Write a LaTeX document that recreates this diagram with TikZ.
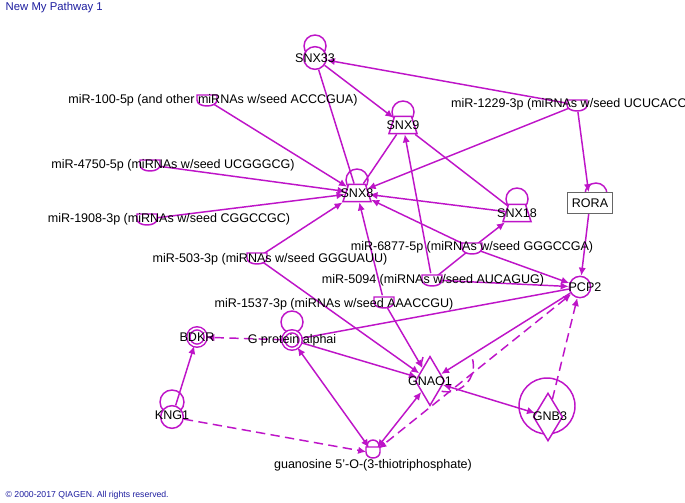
\documentclass[tikz,border=0pt]{standalone}
\usepackage{fontspec}
\setmainfont{Liberation Sans}
\usetikzlibrary{shapes.geometric,arrows.meta,calc}
\definecolor{mag}{RGB}{190,20,200}
\definecolor{ttl}{RGB}{30,30,160}
\begin{document}
\begin{tikzpicture}[x=0.75pt,y=-0.75pt,
  every node/.style={font=\fontsize{9.4}{10}\selectfont},
  ed/.style={mag,line width=1.1pt},
  ar/.style={ed,-{Latex[length=6pt,width=5.5pt]}},
  ba/.style={ed,{Latex[length=6pt,width=5.5pt]}-{Latex[length=6pt,width=5.5pt]}},
  dsh/.style={dash pattern=on 7pt off 4pt},
  mir/.style={circle,inner sep=0,minimum size=10pt},
  trap/.style={trapezium,trapezium angle=72,draw=mag,line width=1.1pt,minimum width=20pt,minimum height=13pt,inner sep=2pt},
  circ/.style={circle,draw=mag,line width=1.1pt,minimum size=17pt,inner sep=0},
  dcirc/.style={circle,draw=mag,line width=1.1pt,double=white,double distance=1.2pt,minimum size=13pt,inner sep=0},
  lp/.style={mag,line width=1.1pt}]
\useasboundingbox (0,0) rectangle (685,503);
\fill[white] (0,0) rectangle (685,503);
\node[anchor=west,text=ttl,font=\fontsize{8.5}{9}\selectfont] (title) at (1,8) {New My Pathway 1};
\node[anchor=west,text=ttl,font=\fontsize{6.5}{7}\selectfont] (copy) at (1,495) {© 2000-2017 QIAGEN. All rights reserved.};
% loops (behind)
\draw[lp] (315,46) circle[radius=11];
\draw[lp] (403,112) circle[radius=11];
\draw[lp] (357,180) circle[radius=11];
\draw[lp] (517,199) circle[radius=11];
\draw[lp] (292,322) circle[radius=11];
\draw[lp] (547,406) circle[radius=28];
\draw[lp] (373,446) circle[radius=6];
\draw[lp] (172,402) circle[radius=12];
\draw[lp] (596,194) circle[radius=11];
\draw[lp,dsh] (423,357) arc[start angle=200,end angle=-20,radius=26];
% nodes
\node[circ,fill=white] (snx33) at (315,58) {};
\node[trap,fill=white] (snx9) at (403,125) {\phantom{x}};
\node[trap,fill=white] (snx8) at (357,193) {\phantom{x}};
\node[trap,fill=white] (snx18) at (517,213) {\phantom{x}};
\node[draw=black!60,fill=white,minimum width=34pt,minimum height=16pt,inner sep=2pt] (rora) at (590,203) {RORA};
\node[circ,fill=white,minimum size=16pt] (pcp2) at (580,287) {};
\node[diamond,draw=mag,line width=1.1pt,fill=white,minimum width=22pt,minimum height=37pt,inner sep=0] (gnao) at (430,381) {};
\node[diamond,draw=mag,line width=1.1pt,fill=white,minimum width=22pt,minimum height=36pt,inner sep=0] (gnb3) at (548,417) {};
\node[dcirc,fill=white] (gpa) at (292,340) {};
\node[dcirc,fill=white] (bdkr) at (197,337) {};
\node[circ,fill=white] (kng) at (172,417) {};
\node[mir] (gtp) at (373,453) {};
\draw[lp,fill=white] (366,447) -- (380,447) -- (380,452) .. controls (380,460) and (366,460) .. (366,452) -- cycle;
% miRNA nodes
\foreach \n/\x/\y in {n100/207/100,n1229/577/105,n4750/150/165,n1908/147/219,n503/257/258,n6877/472/248,n5094/432/280,n1537/384/302}{
  \node[mir] (\n) at (\x,\y) {};
}
% edges
\draw[ar] (n100) -- (snx8);
\draw[ar] (n4750) -- (snx8);
\draw[ar] (n1908) -- (snx8);
\draw[ar] (n503) -- (snx8);
\draw[ar] (n503) -- (gnao);
\draw[ar] (n1229) -- (snx33);
\draw[ar] (n1229) -- (snx8);
\draw[ar] (n1229) -- (rora);
\draw[ar] (snx33) -- (snx9);
\draw[ed] (snx33) -- (snx8);
\draw[ed] (snx9) -- (snx8);
\draw[ed] (snx9) -- (snx18);
\draw[ar] (snx18) -- (snx8);
\draw[ar] (n6877) -- (snx8);
\draw[ar] (n6877) -- (snx18);
\draw[ar] (n6877) -- (pcp2);
\draw[ed] (n6877) -- (n5094);
\draw[ar] (n5094) -- (snx9);
\draw[ar] (n5094) -- (pcp2);
\draw[ar] (n1537) -- (snx8);
\draw[ar] (n1537) -- (gnao);
\draw[ed] (gpa) -- (pcp2);
\draw[ar] (rora) -- (pcp2);
\draw[ar] (pcp2) -- (gnao);
\draw[ba,dsh] (pcp2) -- (gtp);
\draw[ar,dsh] (gnb3) -- (pcp2);
\draw[ar] (gpa) -- (gnao);
\draw[ar,dsh] (gpa) -- (bdkr);
\draw[ba] (gpa) -- (gtp);
\draw[ba] (gnao) -- (gnb3);
\draw[ba] (gtp) -- (gnao);
\draw[ar] (kng) -- (bdkr);
\draw[ar,dsh] (kng) -- (gtp);
% miRNA bowls
\foreach \x/\y in {207/100,577/105,150/165,147/219,257/258,472/248,432/280,384/302}{
  \draw[lp,fill=white] (\x-10,\y-5) -- (\x+10,\y-5) -- (\x+10,\y) .. controls (\x+10,\y+8) and (\x-10,\y+8) .. (\x-10,\y) -- cycle;
}
% labels
\node (l33) at (315,58) {SNX33};
\node (l9) at (403,125) {SNX9};
\node (l8) at (357,193) {SNX8};
\node (l18) at (517,213) {SNX18};
\node (lpcp) at (585,287) {PCP2};
\node (lgnao) at (430,381) {GNAO1};
\node (lgnb) at (550,416) {GNB3};
\node (lgpa) at (292,340) {G protein alphai};
\node (lbdkr) at (197,337) {BDKR};
\node (lkng) at (172,415) {KNG1};
\node (lgtp) at (373,465) {guanosine 5'-O-(3-thiotriphosphate)};
\node (m100) at (213,100) {miR-100-5p (and other miRNAs w/seed ACCCGUA)};
\node (m1229) at (571,104) {miR-1229-3p (miRNAs w/seed UCUCACC)};
\node (m4750) at (173,165) {miR-4750-5p (miRNAs w/seed UCGGGCG)};
\node (m1908) at (169,219) {miR-1908-3p (miRNAs w/seed CGGCCGC)};
\node (m503) at (270,259) {miR-503-3p (miRNAs w/seed GGGUAUU)};
\node (m6877) at (472,247) {miR-6877-5p (miRNAs w/seed GGGCCGA)};
\node (m5094) at (433,280) {miR-5094 (miRNAs w/seed AUCAGUG)};
\node (m1537) at (334,304) {miR-1537-3p (miRNAs w/seed AAACCGU)};
\end{tikzpicture}
\end{document}
